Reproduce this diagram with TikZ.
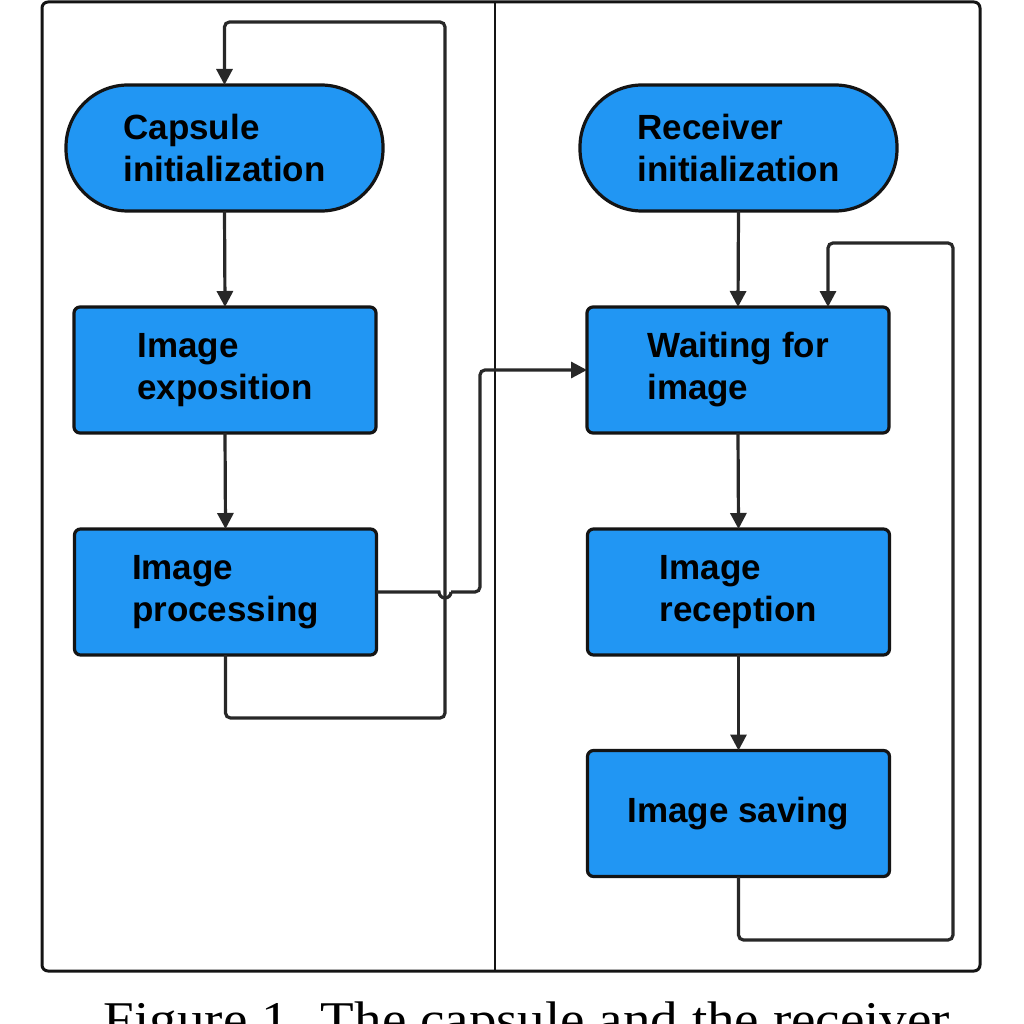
\documentclass[tikz,border=0pt]{standalone}
\usepackage{fontspec}
\setmainfont{Liberation Sans}
\newfontfamily\capfont{Liberation Serif}
\usetikzlibrary{arrows.meta}
\definecolor{boxblue}{RGB}{33,150,243}
\definecolor{edge}{RGB}{20,20,20}
\definecolor{wire}{RGB}{40,40,40}
\begin{document}
\begin{tikzpicture}[x=1pt,y=-1pt,
  every node/.style={inner sep=0pt,outer sep=0pt},
  procbox/.style={draw=edge,line width=3.2pt,fill=boxblue,rounded corners=6,
    minimum width=302,minimum height=126,align=left,
    font=\fontsize{35}{42}\selectfont\bfseries},
  termbox/.style={procbox,rounded corners=62,minimum width=317},
  wirestyle/.style={draw=wire,line width=3.2pt,rounded corners=5},
  arr/.style={wirestyle,-{Triangle[length=16,width=16]}}
]
\useasboundingbox (0,0) rectangle (1024,1024);
\clip (0,0) rectangle (1024,1024);
\fill[white] (0,0) rectangle (1024,1024);
% frame
\draw[line width=3pt,draw=edge,rounded corners=6] (42,2) rectangle (980,971);
\draw[line width=2.8pt,draw=edge] (495,2) -- (495,971);

% capsule lane
\node[termbox] (cap) at (224.5,148) {Capsule\\initialization};
\node[procbox] (exp) at (225,370) {Image\\exposition};
\node[procbox] (proc) at (225.5,592) {Image\\processing};

% receiver lane
\node[termbox] (rec) at (738.5,148) {Receiver\\initialization};
\node[procbox] (wait) at (738,370) {Waiting for\\image};
\node[procbox] (recp) at (738.5,592) {Image\\reception};
\node[procbox] (save) at (738.5,813.5) {Image saving};

% capsule arrows
\draw[arr] (cap.south) -- (exp.north);
\draw[arr] (exp.south) -- (proc.north);
\coordinate (lp1) at (445,718);
\coordinate (lp2) at (445,22);
\draw[arr] (proc.south) |- (lp1) -- (lp2) -| (cap.north);

% cross-lane connector with hop
\coordinate (hA) at (439,592);
\coordinate (hB) at (451,592);
\coordinate (vx) at (480,592);
\draw[wirestyle,sharp corners] (proc.east) -- (hA) arc[start angle=180,end angle=0,radius=6] -- (hB);
\draw[arr] (hB) -- (vx) |- (wait.west);

% receiver arrows
\draw[arr] (rec.south) -- (wait.north);
\draw[arr] (wait.south) -- (recp.north);
\draw[arr] (recp.south) -- (save.north);
\coordinate (rl1) at (953,940);
\coordinate (rl2) at (953,243);
\coordinate (rl3) at (828,243);
\draw[arr] (save.south) |- (rl1) -- (rl2) -- (rl3) -- (rl3 |- wait.north);

% caption
\node[anchor=base,font=\capfont\fontsize{50}{60}\selectfont,xscale=1.1] (cap1) at (527,1036) {Figure 1. The capsule and the receiver};
\end{tikzpicture}
\end{document}
